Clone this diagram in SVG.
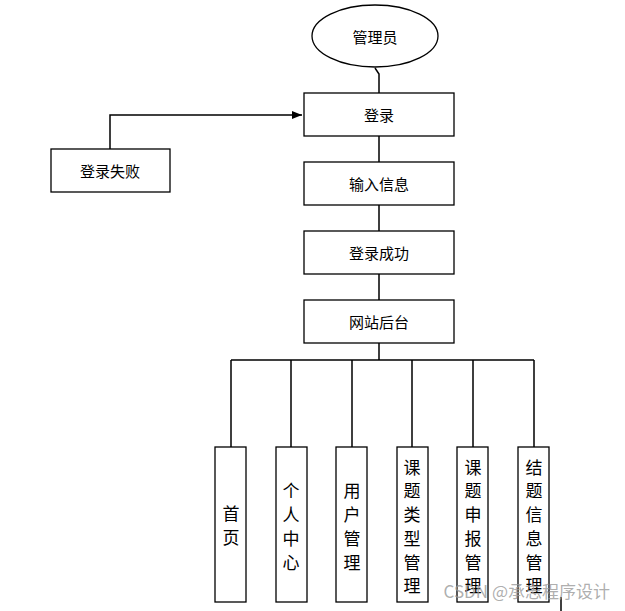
<svg xmlns="http://www.w3.org/2000/svg" width="625" height="611" viewBox="0 0 625 611">
<style>
.b{fill:#fff;stroke:#000;stroke-width:1.3}
.t{font-family:"Noto Sans CJK SC",sans-serif;font-size:15px;fill:#000;text-anchor:middle;dominant-baseline:central}
.v{font-size:17px}
.c{fill:none;stroke:#000;stroke-width:1.5}
</style>
<defs><marker id="a" markerWidth="10" markerHeight="8" refX="10" refY="4" orient="auto" markerUnits="userSpaceOnUse"><path d="M0,0L10,4L0,8z"/></marker></defs>
<rect width="625" height="611" fill="#fff"/>
<g id="connectors">
<path class="c" d="M375,68 L379,74 L379,93"/>
<path class="c" d="M379,136V162M379,205V231M379,274V300M379,343V360"/>
<path class="c" d="M110,149V115H302" marker-end="url(#a)"/>
<path class="c" d="M231,360H534M231,360V447M291,360V447M352,360V447M412,360V447M473,360V447M534,360V447"/>
<path class="c" d="M561,597V611"/>
</g>
<g id="admin"><ellipse class="b" cx="375" cy="36" rx="63" ry="31"/><text class="t" x="375" y="36">管理员</text></g>
<g id="login"><rect class="b" x="304" y="93" width="150" height="43"/><text class="t" x="379" y="114">登录</text></g>
<g id="fail"><rect class="b" x="51" y="149" width="119" height="43"/><text class="t" x="110" y="170">登录失败</text></g>
<g id="input"><rect class="b" x="304" y="162" width="150" height="43"/><text class="t" x="379" y="183">输入信息</text></g>
<g id="success"><rect class="b" x="304" y="231" width="150" height="43"/><text class="t" x="379" y="252">登录成功</text></g>
<g id="backend"><rect class="b" x="304" y="300" width="150" height="43"/><text class="t" x="379" y="321">网站后台</text></g>
<g id="n1" class="t v"><rect class="b" x="215" y="447" width="31" height="155"/><text class="t v" x="231" y="512">首</text><text class="t v" x="231" y="536">页</text></g>
<g id="n2"><rect class="b" x="276" y="447" width="31" height="155"/><text class="t v" x="291" y="489">个</text><text class="t v" x="291" y="513">人</text><text class="t v" x="291" y="537">中</text><text class="t v" x="291" y="561">心</text></g>
<g id="n3"><rect class="b" x="336" y="447" width="31" height="155"/><text class="t v" x="352" y="489">用</text><text class="t v" x="352" y="513">户</text><text class="t v" x="352" y="537">管</text><text class="t v" x="352" y="561">理</text></g>
<g id="n4"><rect class="b" x="397" y="447" width="31" height="155"/><text class="t v" x="412" y="466">课</text><text class="t v" x="412" y="489">题</text><text class="t v" x="412" y="513">类</text><text class="t v" x="412" y="537">型</text><text class="t v" x="412" y="561">管</text><text class="t v" x="412" y="584">理</text></g>
<g id="n5"><rect class="b" x="457" y="447" width="31" height="155"/><text class="t v" x="473" y="466">课</text><text class="t v" x="473" y="489">题</text><text class="t v" x="473" y="513">申</text><text class="t v" x="473" y="537">报</text><text class="t v" x="473" y="561">管</text><text class="t v" x="473" y="584">理</text></g>
<g id="n6"><rect class="b" x="518" y="447" width="31" height="155"/><text class="t v" x="534" y="466">结</text><text class="t v" x="534" y="489">题</text><text class="t v" x="534" y="513">信</text><text class="t v" x="534" y="537">息</text><text class="t v" x="534" y="561">管</text><text class="t v" x="534" y="584">理</text></g>
<text x="610" y="598" style="font-family:'Noto Sans CJK SC',sans-serif;font-size:17px;fill:#999;fill-opacity:0.8;text-anchor:end">CSDN @承志程序设计</text>
</svg>
